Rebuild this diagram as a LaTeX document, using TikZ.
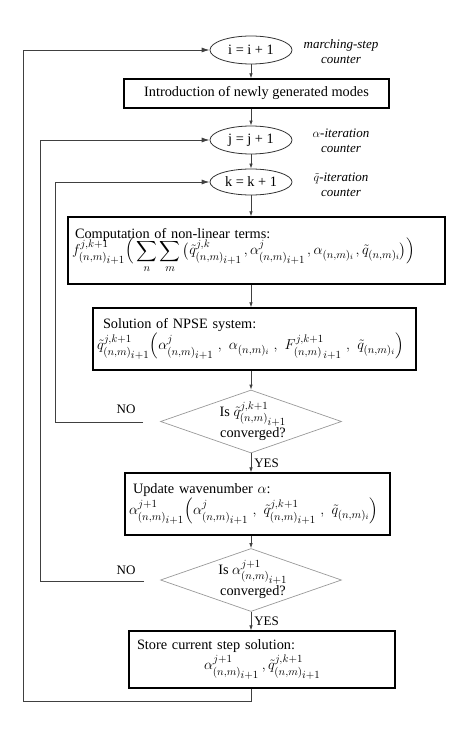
\documentclass[tikz,border=0pt]{standalone}
\usepackage{amsmath}
\usepackage[no-math]{fontspec}
\setmainfont{Liberation Serif}
\usetikzlibrary{shapes.geometric,arrows.meta}
\DeclareMathSizes{14.3}{14.3}{11}{8}
\newcommand{\fsz}{\fontsize{14.3}{17}\selectfont}
\newcommand{\fsm}{\fontsize{13}{15}\selectfont}
\newcommand{\ipo}{\scriptstyle i+1}
\newcommand{\cmw}{\mkern5mu,\mkern6mu}
\begin{document}
\begin{tikzpicture}[x=1pt,y=-1pt,
  box/.style={draw=black, line width=1.3pt, rectangle, inner xsep=6pt, inner ysep=3pt, align=left, font=\fsz},
  counter/.style={ellipse, draw=black!80, line width=0.8pt, minimum width=82pt, minimum height=28pt, inner sep=0pt, font=\fsz},
  dia/.style={diamond, draw=black!40, line width=0.7pt, minimum width=181pt, minimum height=63pt, inner sep=0pt, aspect=2.87},
  diatext/.style={align=center, font=\fsz, inner sep=0pt},
  side/.style={align=center, font=\fsm\itshape, inner sep=0pt},
  flow/.style={draw=black!75, line width=0.7pt, -{Latex[length=5pt,width=3.5pt]}},
  loopline/.style={draw=black!75, line width=0.9pt},
  looparrow/.style={draw=black!75, line width=0.9pt, -{Latex[length=8pt,width=5pt]}},
  lab/.style={font=\fsm, inner sep=0pt}
]
\useasboundingbox (0,0) rectangle (474,738);

\node[counter] (ei) at (251,50) {i = i + 1};
\node[side] (si) at (341,52) {marching-step\\counter};
\node[box, minimum width=265pt, minimum height=29pt, align=center] (intro) at (256.5,93.5) {Introduction of newly generated modes};
\node[counter] (ej) at (251,140) {j = j + 1};
\node[side] (sj) at (341,141) {$\alpha$-iteration\\counter};
\node[counter, minimum height=26pt] (ek) at (251,182) {k = k + 1};
\node[side] (sk) at (341,185) {$\tilde{q}$-iteration\\counter};

\node[box, text width=369pt, minimum height=67pt, inner xsep=4pt] (comp) at (256.5,250.5)
  {\hspace*{3pt}Computation of non-linear terms:\\[-4pt]
   $\displaystyle f^{j,k+1}_{(n,m)_{\ipo}}\Big(\sum_n\sum_m\big(\tilde q^{j,k}_{(n,m)_{\ipo}}\mkern2mu,\alpha^{j}_{(n,m)_{\ipo}}\mkern2mu,\alpha_{(n,m)_i}\mkern2mu,\tilde q_{(n,m)_i}\big)\Big)$};

\node[box, text width=315pt, minimum height=62pt, inner xsep=4pt] (npse) at (254.5,339)
  {\hspace*{6pt}Solution of NPSE system:\\[1pt]
   $\tilde q^{j,k+1}_{(n,m)_{\ipo}}\Big(\alpha^{j}_{(n,m)_{\ipo}}\cmw\alpha_{(n,m)_i}\cmw F^{j,k+1}_{(n,m)\,_{\ipo}}\cmw\tilde q_{(n,m)_i}\Big)$};

\node[dia] (d1) at (251,421.5) {};
\node[diatext] (t1) at (253,421) {Is $\tilde q^{j,k+1}_{(n,m)_{\ipo}}$\\converged?};

\node[box, text width=257pt, minimum height=62pt, inner xsep=4pt] (upd) at (257.5,504)
  {\hspace*{4pt}Update wavenumber $\alpha$:\\[1pt]
   $\alpha^{j+1}_{(n,m)_{\ipo}}\Big(\alpha^{j}_{(n,m)_{\ipo}}\cmw\tilde q^{j,k+1}_{(n,m)_{\ipo}}\cmw\tilde q_{(n,m)_i}\Big)$};

\node[dia] (d2) at (251,580) {};
\node[diatext] (t2) at (253,579) {Is $\alpha^{j+1}_{(n,m)_{\ipo}}$\\converged?};

\node[box, text width=254pt, minimum height=57pt] (store) at (262,659.5)
  {\hspace*{2pt}Store current step solution:\\[2pt]
   \hspace*{69pt}$\alpha^{j+1}_{(n,m)_{\ipo}}\mkern3mu,\tilde q^{j,k+1}_{(n,m)_{\ipo}}$};

% forward arrows
\draw[flow] (ei.south) -- (ei.south |- intro.north);
\draw[flow] (ei.south |- intro.south) -- (ej.north);
\draw[flow] (ej.south) -- (ek.north);
\draw[flow] (ek.south) -- (ek.south |- comp.north);
\draw[flow] (ek.south |- comp.south) -- (ek.south |- npse.north);
\draw[flow] (ek.south |- npse.south) -- (d1.north);
\draw[flow] (d1.south) -- (d1.south |- upd.north) node[lab, pos=0.5, right=3pt] (y1) {YES};
\draw[flow] (d1.south |- upd.south) -- (d2.north);
\draw[flow] (d2.south) -- (d2.south |- store.north) node[lab, pos=0.5, right=3pt] (y2) {YES};

% loop back from store
\coordinate (sb) at (ei.south |- store.south);
\coordinate (c1) at (251,701);
\coordinate (c2) at (23,701);
\coordinate (c3) at (23,50);
\draw[loopline] (sb) -- (c1) -- (c2) -- (c3);
\draw[looparrow] (c3) -- (ei.west);

% NO loops
\coordinate (n1) at (143,422);
\coordinate (n1b) at (55,422);
\coordinate (n1c) at (55,182);
\draw[loopline] (n1) -- (n1b) -- (n1c);
\draw[looparrow] (n1c) -- (ek.west);
\node[lab] (no1) at (126,409) {NO};

\coordinate (n2) at (144,581);
\coordinate (n2b) at (40,581);
\coordinate (n2c) at (40,140);
\draw[loopline] (n2) -- (n2b) -- (n2c);
\draw[looparrow] (n2c) -- (ej.west);
\node[lab] (no2) at (126,570) {NO};
\end{tikzpicture}
\end{document}
